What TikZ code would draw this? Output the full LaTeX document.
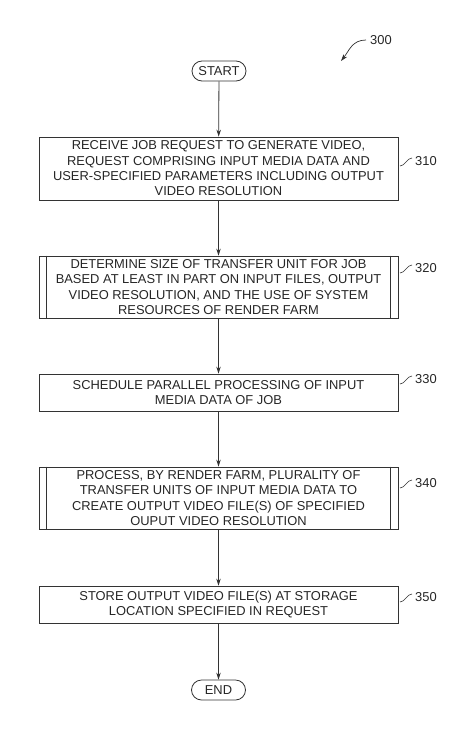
\documentclass[tikz,border=0pt]{standalone}
\usepackage{fontspec}
\setmainfont{Liberation Sans}
\usetikzlibrary{arrows.meta}
\begin{document}
\begin{tikzpicture}[x=1pt,y=-1pt,
  every node/.style={font=\fontsize{12.9}{15.3}\selectfont, text=black!85},
  box/.style={draw=black!80, line width=0.8pt, minimum width=359pt, align=center, inner sep=0pt},
  term/.style={draw=black!80, line width=0.8pt, rounded corners=10pt, minimum width=54pt, minimum height=20pt, inner sep=0pt},
  arr/.style={-{Stealth[length=7pt,width=4.5pt]}, line width=0.8pt, draw=black!80},
  wire/.style={line width=0.8pt, draw=black!80},
  lbl/.style={anchor=west, inner sep=0pt},
  ]
\useasboundingbox (0,0) rectangle (474,733);

\node[term] (start) at (219,71) {START};
\node[box, minimum height=63pt] (b1) at (218.5,168.5) {RECEIVE JOB REQUEST TO GENERATE VIDEO,\\REQUEST COMPRISING INPUT MEDIA DATA AND\\USER-SPECIFIED PARAMETERS INCLUDING OUTPUT\\VIDEO RESOLUTION};
\node[box, minimum height=62pt] (b2) at (218.5,287) {DETERMINE SIZE OF TRANSFER UNIT FOR JOB\\BASED AT LEAST IN PART ON INPUT FILES, OUTPUT\\VIDEO RESOLUTION, AND THE USE OF SYSTEM\\RESOURCES OF RENDER FARM};
\node[box, minimum height=37pt] (b3) at (218.5,392.5) {SCHEDULE PARALLEL PROCESSING OF INPUT\\MEDIA DATA OF JOB};
\node[box, minimum height=62pt] (b4) at (218.5,498) {PROCESS, BY RENDER FARM, PLURALITY OF\\TRANSFER UNITS OF INPUT MEDIA DATA TO\\CREATE OUTPUT VIDEO FILE(S) OF SPECIFIED\\OUPUT VIDEO RESOLUTION};
\node[box, minimum height=37pt] (b5) at (218.5,604.5) {STORE OUTPUT VIDEO FILE(S) AT STORAGE\\LOCATION SPECIFIED IN REQUEST};
\node[term] (end) at (218.5,690) {END};

% predefined-process side bars
\foreach \b in {b2,b4}{
  \draw[wire] ([xshift=8pt]\b.north west) -- ([xshift=8pt]\b.south west);
  \draw[wire] ([xshift=-8pt]\b.north east) -- ([xshift=-8pt]\b.south east);
}

% connectors
\draw[arr] (start) -- (b1);
\draw[arr] (b1) -- (b2);
\draw[arr] (b2) -- (b3);
\draw[arr] (b3) -- (b4);
\draw[arr] (b4) -- (b5);
\draw[arr] (b5) -- (end);

% reference labels
\node[lbl] (l1) at (415,161) {310};
\node[lbl] (l2) at (415,268) {320};
\node[lbl] (l3) at (415,379) {330};
\node[lbl] (l4) at (415,483) {340};
\node[lbl] (l5) at (415,597) {350};
\foreach \l in {l1,l2,l3,l4,l5}{
  \draw[wire, line width=0.6pt] ([xshift=-15pt,yshift=-5pt]\l.west) .. controls +(5,0) and +(-5,0) .. ([xshift=-3pt,yshift=3pt]\l.west);
}

\node[lbl] (l0) at (370,40) {300};
\draw[arr, line width=0.7pt] ([xshift=-4pt]l0.west) .. controls +(-14,0) and +(8,-10) .. (341,61);
\end{tikzpicture}
\end{document}
